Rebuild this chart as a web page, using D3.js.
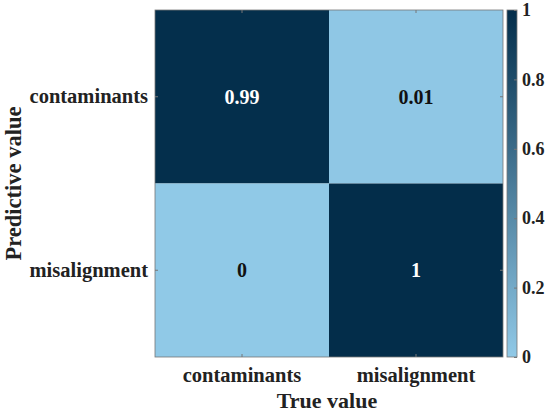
<!DOCTYPE html>
<html>
<head>
<meta charset="utf-8">
<script src="https://cdn.jsdelivr.net/npm/d3@7"></script>
<style>
  body { margin: 0; background: #fff; }
</style>
</head>
<body>
<div id="chart"></div>
<script>
const trueLabels = ["contaminants", "misalignment"];
const predLabels = ["contaminants", "misalignment"];
// rows = predicted, columns = true
const values = [
  [0.99, 0.01],
  [0, 1]
];
const barTicks = [0, 0.2, 0.4, 0.6, 0.8, 1];

const FONT = "Liberation Serif";
const W = 550, H = 412;
const margin = { top: 10, right: 47, bottom: 55, left: 155 };
const width = 503 - margin.left,
  height = 357 - margin.top;

const svg = d3.select("#chart").append("svg")
  .attr("width", W).attr("height", H)
  .attr("font-family", FONT).attr("font-weight", "bold");
const g = svg.append("g")
  .attr("transform", "translate(" + margin.left + "," + margin.top + ")");

const x = d3.scaleBand().domain(trueLabels).range([0, width]);
const y = d3.scaleBand().domain(predLabels).range([0, height]);
const color = d3.scaleLinear().domain([0, 1]).range(["#90c9e7", "#032d4a"]);

// cells
const cells = [];
values.forEach((row, i) => row.forEach((v, j) => cells.push({ r: predLabels[i], c: trueLabels[j], v: v })));

g.selectAll(".cell").data(cells).enter().append("rect")
  .attr("x", d => x(d.c)).attr("y", d => y(d.r))
  .attr("width", x.bandwidth()).attr("height", y.bandwidth())
  .attr("fill", d => color(d.v));

g.selectAll(".val").data(cells).enter().append("text")
  .attr("x", d => x(d.c) + x.bandwidth() / 2)
  .attr("y", d => y(d.r) + y.bandwidth() / 2)
  .attr("dy", "0.35em")
  .attr("text-anchor", "middle")
  .style("font-family", FONT).style("font-weight", "bold")
  .style("font-size", "20px")
  .attr("fill", d => d.v > 0.5 ? "#fff" : "#111")
  .text(d => d.v);

// frame
g.append("rect").attr("width", width).attr("height", height)
  .attr("fill", "none").attr("stroke", "#777").attr("stroke-width", 0.8);

// axes (inward ticks)
const xb = g.append("g").attr("transform", "translate(0," + height + ")")
  .call(d3.axisBottom(x).tickSizeInner(-3).tickSizeOuter(0).tickPadding(10));
const xt = g.append("g").call(d3.axisTop(x).tickSizeInner(-3).tickSizeOuter(0).tickFormat(""));
const yl = g.append("g").call(d3.axisLeft(y).tickSizeInner(-3).tickSizeOuter(0).tickPadding(7));
const yr = g.append("g").attr("transform", "translate(" + width + ",0)")
  .call(d3.axisRight(y).tickSizeInner(-3).tickSizeOuter(0).tickFormat(""));
[xb, xt, yl, yr].forEach(a => {
  a.attr("font-family", FONT);
  a.select(".domain").remove();
  a.selectAll("line").attr("stroke", "#777");
  a.selectAll("text").style("font-family", FONT).style("font-weight", "bold")
    .style("font-size", "20.5px").attr("fill", "#222");
});

// axis titles
svg.append("text").attr("x", margin.left + width / 2 - 2).attr("y", 408)
  .attr("text-anchor", "middle").style("font-size", "22px").attr("fill", "#222")
  .text("True value");
svg.append("text")
  .attr("transform", "translate(21," + (margin.top + height / 2) + ") rotate(-90)")
  .attr("text-anchor", "middle").style("font-size", "22.5px").attr("fill", "#222")
  .text("Predictive value");

// colorbar
const defs = svg.append("defs");
const grad = defs.append("linearGradient").attr("id", "cb")
  .attr("x1", 0).attr("y1", 1).attr("x2", 0).attr("y2", 0);
d3.range(0, 1.01, 0.1).forEach(t => grad.append("stop")
  .attr("offset", t).attr("stop-color", color(t)));

const cbX = 507, cbW = 10;
const cy = d3.scaleLinear().domain([0, 1]).range([357, 10]);
svg.append("rect").attr("x", cbX).attr("y", 10).attr("width", cbW).attr("height", 347)
  .attr("fill", "url(#cb)").attr("stroke", "#777").attr("stroke-width", 0.8);
const cbAxis = svg.append("g").attr("transform", "translate(" + (cbX + cbW) + ",0)")
  .call(d3.axisRight(cy).tickValues(barTicks).tickFormat(d3.format("")).tickSizeInner(-3).tickSizeOuter(0).tickPadding(5));
cbAxis.attr("font-family", FONT);
cbAxis.select(".domain").remove();
cbAxis.selectAll("line").attr("stroke", "#777");
cbAxis.selectAll("text").style("font-family", FONT).style("font-weight", "bold")
  .style("font-size", "18px").attr("fill", "#222");
</script>
</body>
</html>
